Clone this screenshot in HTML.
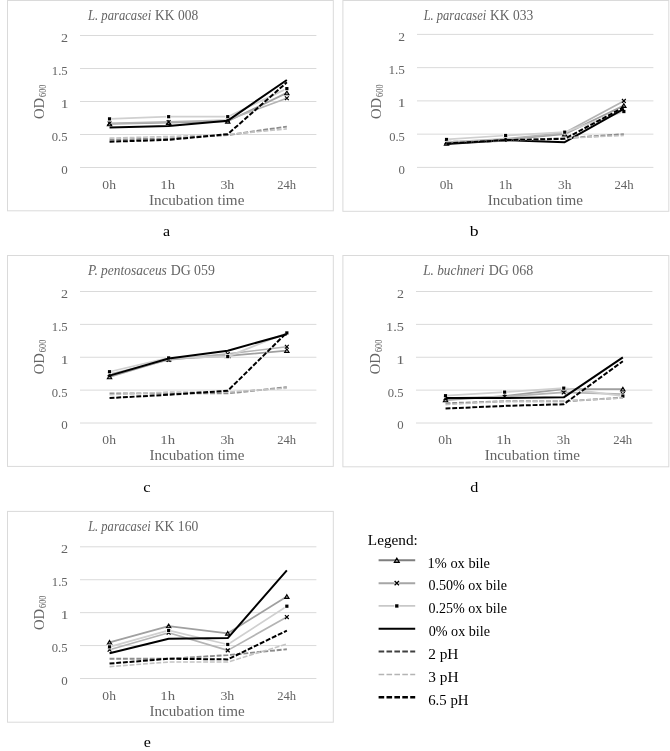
<!DOCTYPE html>
<html><head><meta charset="utf-8"><style>
html,body{margin:0;padding:0;background:#fff;}
svg{display:block;will-change:transform;font-family:"Liberation Serif", serif;}
</style></head><body>
<svg width="670" height="751" viewBox="0 0 670 751">
<rect width="670" height="751" fill="#fff"/>
<rect x="7.5" y="0.5" width="325.8" height="210.3" fill="#fff" stroke="#dadada" stroke-width="1"/>
<line x1="80.0" y1="167.5" x2="316.40" y2="167.5" stroke="#dadada" stroke-width="1"/>
<line x1="80.0" y1="134.5" x2="316.40" y2="134.5" stroke="#dadada" stroke-width="1"/>
<line x1="80.0" y1="101.5" x2="316.40" y2="101.5" stroke="#dadada" stroke-width="1"/>
<line x1="80.0" y1="68.5" x2="316.40" y2="68.5" stroke="#dadada" stroke-width="1"/>
<line x1="80.0" y1="35.5" x2="316.40" y2="35.5" stroke="#dadada" stroke-width="1"/>
<g transform="translate(44.10,119.10) rotate(-90)"><text x="0" y="0" font-size="14.5" fill="#646464" textLength="21.0" lengthAdjust="spacingAndGlyphs">OD</text><text x="22.1" y="2" font-size="10" fill="#646464" textLength="12.5" lengthAdjust="spacingAndGlyphs">600</text></g>
<polyline points="109.55,123.94 168.65,122.62 227.75,121.30 286.85,92.92" fill="none" stroke="#a0a0a0" stroke-width="1.8" stroke-linejoin="round"/>
<path d="M109.55,122.04 L111.75,125.74 L107.35,125.74 Z" fill="#a0a0a0" stroke="#000" stroke-width="1.1"/>
<path d="M168.65,120.72 L170.85,124.42 L166.45,124.42 Z" fill="#a0a0a0" stroke="#000" stroke-width="1.1"/>
<path d="M227.75,119.40 L229.95,123.10 L225.55,123.10 Z" fill="#a0a0a0" stroke="#000" stroke-width="1.1"/>
<path d="M286.85,91.02 L289.05,94.72 L284.65,94.72 Z" fill="#a0a0a0" stroke="#000" stroke-width="1.1"/>
<polyline points="109.55,123.28 168.65,121.96 227.75,119.98 286.85,98.20" fill="none" stroke="#b4b4b4" stroke-width="1.7" stroke-linejoin="round"/>
<path d="M107.65,121.38 L111.45,125.18 M111.45,121.38 L107.65,125.18" stroke="#000" stroke-width="1.2" fill="none"/>
<path d="M166.75,120.06 L170.55,123.86 M170.55,120.06 L166.75,123.86" stroke="#000" stroke-width="1.2" fill="none"/>
<path d="M225.85,118.08 L229.65,121.88 M229.65,118.08 L225.85,121.88" stroke="#000" stroke-width="1.2" fill="none"/>
<path d="M284.95,96.30 L288.75,100.10 M288.75,96.30 L284.95,100.10" stroke="#000" stroke-width="1.2" fill="none"/>
<polyline points="109.55,118.86 168.65,116.68 227.75,116.68 286.85,88.63" fill="none" stroke="#d0d0d0" stroke-width="1.7" stroke-linejoin="round"/>
<rect x="107.15" y="116.46" width="4.80" height="4.80" fill="#fff"/><rect x="107.95" y="117.26" width="3.20" height="3.20" fill="#000"/>
<rect x="166.25" y="114.28" width="4.80" height="4.80" fill="#fff"/><rect x="167.05" y="115.08" width="3.20" height="3.20" fill="#000"/>
<rect x="225.35" y="114.28" width="4.80" height="4.80" fill="#fff"/><rect x="226.15" y="115.08" width="3.20" height="3.20" fill="#000"/>
<rect x="284.45" y="86.23" width="4.80" height="4.80" fill="#fff"/><rect x="285.25" y="87.03" width="3.20" height="3.20" fill="#000"/>
<polyline points="109.55,127.57 168.65,125.92 227.75,120.64 286.85,79.98" fill="none" stroke="#000000" stroke-width="2.0" stroke-linejoin="round"/>
<polyline points="109.55,139.78 168.65,138.46 227.75,135.16 286.85,126.58" fill="none" stroke="#8c8c8c" stroke-width="1.9" stroke-linejoin="round" stroke-dasharray="4.9,1.8"/>
<polyline points="109.55,138.13 168.65,136.48 227.75,134.50 286.85,128.89" fill="none" stroke="#c4c4c4" stroke-width="1.6" stroke-linejoin="round" stroke-dasharray="4.9,1.8"/>
<polyline points="109.55,141.76 168.65,139.78 227.75,134.17 286.85,82.36" fill="none" stroke="#000000" stroke-width="2.0" stroke-linejoin="round" stroke-dasharray="4.9,1.8"/>
<rect x="342.9" y="0.5" width="325.9" height="210.8" fill="#fff" stroke="#dadada" stroke-width="1"/>
<line x1="417.0" y1="167.4" x2="653.40" y2="167.4" stroke="#dadada" stroke-width="1"/>
<line x1="417.0" y1="134.15" x2="653.40" y2="134.15" stroke="#dadada" stroke-width="1"/>
<line x1="417.0" y1="100.9" x2="653.40" y2="100.9" stroke="#dadada" stroke-width="1"/>
<line x1="417.0" y1="67.65" x2="653.40" y2="67.65" stroke="#dadada" stroke-width="1"/>
<line x1="417.0" y1="34.400000000000006" x2="653.40" y2="34.400000000000006" stroke="#dadada" stroke-width="1"/>
<g transform="translate(381.30,119.00) rotate(-90)"><text x="0" y="0" font-size="14.5" fill="#646464" textLength="21.0" lengthAdjust="spacingAndGlyphs">OD</text><text x="22.1" y="2" font-size="10" fill="#646464" textLength="12.5" lengthAdjust="spacingAndGlyphs">600</text></g>
<polyline points="446.55,143.46 505.65,139.47 564.75,134.15 623.85,105.56" fill="none" stroke="#a0a0a0" stroke-width="1.8" stroke-linejoin="round"/>
<path d="M446.55,141.56 L448.75,145.26 L444.35,145.26 Z" fill="#a0a0a0" stroke="#000" stroke-width="1.1"/>
<path d="M505.65,137.57 L507.85,141.27 L503.45,141.27 Z" fill="#a0a0a0" stroke="#000" stroke-width="1.1"/>
<path d="M564.75,132.25 L566.95,135.95 L562.55,135.95 Z" fill="#a0a0a0" stroke="#000" stroke-width="1.1"/>
<path d="M623.85,103.66 L626.05,107.36 L621.65,107.36 Z" fill="#a0a0a0" stroke="#000" stroke-width="1.1"/>
<polyline points="446.55,142.13 505.65,138.81 564.75,132.82 623.85,100.90" fill="none" stroke="#b4b4b4" stroke-width="1.7" stroke-linejoin="round"/>
<path d="M444.65,140.23 L448.45,144.03 M448.45,140.23 L444.65,144.03" stroke="#000" stroke-width="1.2" fill="none"/>
<path d="M503.75,136.91 L507.55,140.71 M507.55,136.91 L503.75,140.71" stroke="#000" stroke-width="1.2" fill="none"/>
<path d="M562.85,130.92 L566.65,134.72 M566.65,130.92 L562.85,134.72" stroke="#000" stroke-width="1.2" fill="none"/>
<path d="M621.95,99.00 L625.75,102.80 M625.75,99.00 L621.95,102.80" stroke="#000" stroke-width="1.2" fill="none"/>
<polyline points="446.55,139.47 505.65,135.48 564.75,132.16 623.85,111.54" fill="none" stroke="#d0d0d0" stroke-width="1.7" stroke-linejoin="round"/>
<rect x="444.15" y="137.07" width="4.80" height="4.80" fill="#fff"/><rect x="444.95" y="137.87" width="3.20" height="3.20" fill="#000"/>
<rect x="503.25" y="133.08" width="4.80" height="4.80" fill="#fff"/><rect x="504.05" y="133.88" width="3.20" height="3.20" fill="#000"/>
<rect x="562.35" y="129.75" width="4.80" height="4.80" fill="#fff"/><rect x="563.15" y="130.56" width="3.20" height="3.20" fill="#000"/>
<rect x="621.45" y="109.14" width="4.80" height="4.80" fill="#fff"/><rect x="622.25" y="109.94" width="3.20" height="3.20" fill="#000"/>
<polyline points="446.55,144.12 505.65,140.14 564.75,142.13 623.85,108.88" fill="none" stroke="#000000" stroke-width="2.0" stroke-linejoin="round"/>
<polyline points="446.55,142.80 505.65,140.80 564.75,138.14 623.85,134.15" fill="none" stroke="#8c8c8c" stroke-width="1.9" stroke-linejoin="round" stroke-dasharray="4.9,1.8"/>
<polyline points="446.55,141.47 505.65,140.80 564.75,138.14 623.85,135.48" fill="none" stroke="#c4c4c4" stroke-width="1.6" stroke-linejoin="round" stroke-dasharray="4.9,1.8"/>
<polyline points="446.55,143.46 505.65,140.14 564.75,138.81 623.85,107.22" fill="none" stroke="#000000" stroke-width="2.0" stroke-linejoin="round" stroke-dasharray="4.9,1.8"/>
<rect x="7.5" y="255.5" width="325.8" height="210.9" fill="#fff" stroke="#dadada" stroke-width="1"/>
<line x1="80.0" y1="423.0" x2="316.40" y2="423.0" stroke="#dadada" stroke-width="1"/>
<line x1="80.0" y1="390.125" x2="316.40" y2="390.125" stroke="#dadada" stroke-width="1"/>
<line x1="80.0" y1="357.25" x2="316.40" y2="357.25" stroke="#dadada" stroke-width="1"/>
<line x1="80.0" y1="324.375" x2="316.40" y2="324.375" stroke="#dadada" stroke-width="1"/>
<line x1="80.0" y1="291.5" x2="316.40" y2="291.5" stroke="#dadada" stroke-width="1"/>
<g transform="translate(44.10,374.30) rotate(-90)"><text x="0" y="0" font-size="14.5" fill="#646464" textLength="21.0" lengthAdjust="spacingAndGlyphs">OD</text><text x="22.1" y="2" font-size="10" fill="#646464" textLength="12.5" lengthAdjust="spacingAndGlyphs">600</text></g>
<polyline points="109.55,376.98 168.65,359.22 227.75,355.94 286.85,350.68" fill="none" stroke="#a0a0a0" stroke-width="1.8" stroke-linejoin="round"/>
<path d="M109.55,375.08 L111.75,378.78 L107.35,378.78 Z" fill="#a0a0a0" stroke="#000" stroke-width="1.1"/>
<path d="M168.65,357.32 L170.85,361.02 L166.45,361.02 Z" fill="#a0a0a0" stroke="#000" stroke-width="1.1"/>
<path d="M227.75,354.04 L229.95,357.74 L225.55,357.74 Z" fill="#a0a0a0" stroke="#000" stroke-width="1.1"/>
<path d="M286.85,348.78 L289.05,352.48 L284.65,352.48 Z" fill="#a0a0a0" stroke="#000" stroke-width="1.1"/>
<polyline points="109.55,374.35 168.65,359.88 227.75,353.96 286.85,346.73" fill="none" stroke="#b4b4b4" stroke-width="1.7" stroke-linejoin="round"/>
<path d="M107.65,372.45 L111.45,376.25 M111.45,372.45 L107.65,376.25" stroke="#000" stroke-width="1.2" fill="none"/>
<path d="M166.75,357.98 L170.55,361.78 M170.55,357.98 L166.75,361.78" stroke="#000" stroke-width="1.2" fill="none"/>
<path d="M225.85,352.06 L229.65,355.86 M229.65,352.06 L225.85,355.86" stroke="#000" stroke-width="1.2" fill="none"/>
<path d="M284.95,344.83 L288.75,348.63 M288.75,344.83 L284.95,348.63" stroke="#000" stroke-width="1.2" fill="none"/>
<polyline points="109.55,371.71 168.65,357.91 227.75,356.59 286.85,332.92" fill="none" stroke="#d0d0d0" stroke-width="1.7" stroke-linejoin="round"/>
<rect x="107.15" y="369.31" width="4.80" height="4.80" fill="#fff"/><rect x="107.95" y="370.11" width="3.20" height="3.20" fill="#000"/>
<rect x="166.25" y="355.51" width="4.80" height="4.80" fill="#fff"/><rect x="167.05" y="356.31" width="3.20" height="3.20" fill="#000"/>
<rect x="225.35" y="354.19" width="4.80" height="4.80" fill="#fff"/><rect x="226.15" y="354.99" width="3.20" height="3.20" fill="#000"/>
<rect x="284.45" y="330.52" width="4.80" height="4.80" fill="#fff"/><rect x="285.25" y="331.32" width="3.20" height="3.20" fill="#000"/>
<polyline points="109.55,375.66 168.65,358.56 227.75,350.68 286.85,334.24" fill="none" stroke="#000000" stroke-width="2.0" stroke-linejoin="round"/>
<polyline points="109.55,393.41 168.65,393.41 227.75,393.41 286.85,387.17" fill="none" stroke="#8c8c8c" stroke-width="1.9" stroke-linejoin="round" stroke-dasharray="4.9,1.8"/>
<polyline points="109.55,394.73 168.65,392.10 227.75,392.10 286.85,388.15" fill="none" stroke="#c4c4c4" stroke-width="1.6" stroke-linejoin="round" stroke-dasharray="4.9,1.8"/>
<polyline points="109.55,398.01 168.65,394.73 227.75,390.78 286.85,332.59" fill="none" stroke="#000000" stroke-width="2.0" stroke-linejoin="round" stroke-dasharray="4.9,1.8"/>
<rect x="342.9" y="255.5" width="325.9" height="211.3" fill="#fff" stroke="#dadada" stroke-width="1"/>
<line x1="416.0" y1="423.0" x2="652.40" y2="423.0" stroke="#dadada" stroke-width="1"/>
<line x1="416.0" y1="390.125" x2="652.40" y2="390.125" stroke="#dadada" stroke-width="1"/>
<line x1="416.0" y1="357.25" x2="652.40" y2="357.25" stroke="#dadada" stroke-width="1"/>
<line x1="416.0" y1="324.375" x2="652.40" y2="324.375" stroke="#dadada" stroke-width="1"/>
<line x1="416.0" y1="291.5" x2="652.40" y2="291.5" stroke="#dadada" stroke-width="1"/>
<g transform="translate(380.00,374.20) rotate(-90)"><text x="0" y="0" font-size="14.5" fill="#646464" textLength="21.0" lengthAdjust="spacingAndGlyphs">OD</text><text x="22.1" y="2" font-size="10" fill="#646464" textLength="12.5" lengthAdjust="spacingAndGlyphs">600</text></g>
<polyline points="445.55,399.99 504.65,396.04 563.75,389.14 622.85,389.14" fill="none" stroke="#a0a0a0" stroke-width="1.8" stroke-linejoin="round"/>
<path d="M445.55,398.09 L447.75,401.79 L443.35,401.79 Z" fill="#a0a0a0" stroke="#000" stroke-width="1.1"/>
<path d="M504.65,394.14 L506.85,397.84 L502.45,397.84 Z" fill="#a0a0a0" stroke="#000" stroke-width="1.1"/>
<path d="M563.75,387.24 L565.95,390.94 L561.55,390.94 Z" fill="#a0a0a0" stroke="#000" stroke-width="1.1"/>
<path d="M622.85,387.24 L625.05,390.94 L620.65,390.94 Z" fill="#a0a0a0" stroke="#000" stroke-width="1.1"/>
<polyline points="445.55,398.01 504.65,396.70 563.75,392.43 622.85,394.07" fill="none" stroke="#b4b4b4" stroke-width="1.7" stroke-linejoin="round"/>
<path d="M443.65,396.12 L447.45,399.91 M447.45,396.12 L443.65,399.91" stroke="#000" stroke-width="1.2" fill="none"/>
<path d="M502.75,394.80 L506.55,398.60 M506.55,394.80 L502.75,398.60" stroke="#000" stroke-width="1.2" fill="none"/>
<path d="M561.85,390.53 L565.65,394.33 M565.65,390.53 L561.85,394.33" stroke="#000" stroke-width="1.2" fill="none"/>
<path d="M620.95,392.17 L624.75,395.97 M624.75,392.17 L620.95,395.97" stroke="#000" stroke-width="1.2" fill="none"/>
<polyline points="445.55,395.71 504.65,392.10 563.75,388.15 622.85,396.04" fill="none" stroke="#d0d0d0" stroke-width="1.7" stroke-linejoin="round"/>
<rect x="443.15" y="393.31" width="4.80" height="4.80" fill="#fff"/><rect x="443.95" y="394.11" width="3.20" height="3.20" fill="#000"/>
<rect x="502.25" y="389.70" width="4.80" height="4.80" fill="#fff"/><rect x="503.05" y="390.50" width="3.20" height="3.20" fill="#000"/>
<rect x="561.35" y="385.75" width="4.80" height="4.80" fill="#fff"/><rect x="562.15" y="386.55" width="3.20" height="3.20" fill="#000"/>
<rect x="620.45" y="393.64" width="4.80" height="4.80" fill="#fff"/><rect x="621.25" y="394.44" width="3.20" height="3.20" fill="#000"/>
<polyline points="445.55,398.01 504.65,398.01 563.75,397.36 622.85,357.45" fill="none" stroke="#000000" stroke-width="2.0" stroke-linejoin="round"/>
<polyline points="445.55,403.27 504.65,401.30 563.75,401.30 622.85,397.69" fill="none" stroke="#8c8c8c" stroke-width="1.9" stroke-linejoin="round" stroke-dasharray="4.9,1.8"/>
<polyline points="445.55,404.59 504.65,401.30 563.75,400.97 622.85,398.01" fill="none" stroke="#c4c4c4" stroke-width="1.6" stroke-linejoin="round" stroke-dasharray="4.9,1.8"/>
<polyline points="445.55,408.54 504.65,405.90 563.75,404.26 622.85,361.19" fill="none" stroke="#000000" stroke-width="2.0" stroke-linejoin="round" stroke-dasharray="4.9,1.8"/>
<rect x="7.5" y="511.4" width="325.8" height="210.8" fill="#fff" stroke="#dadada" stroke-width="1"/>
<line x1="80.0" y1="678.5" x2="316.40" y2="678.5" stroke="#dadada" stroke-width="1"/>
<line x1="80.0" y1="645.575" x2="316.40" y2="645.575" stroke="#dadada" stroke-width="1"/>
<line x1="80.0" y1="612.65" x2="316.40" y2="612.65" stroke="#dadada" stroke-width="1"/>
<line x1="80.0" y1="579.725" x2="316.40" y2="579.725" stroke="#dadada" stroke-width="1"/>
<line x1="80.0" y1="546.8" x2="316.40" y2="546.8" stroke="#dadada" stroke-width="1"/>
<g transform="translate(44.10,630.10) rotate(-90)"><text x="0" y="0" font-size="14.5" fill="#646464" textLength="21.0" lengthAdjust="spacingAndGlyphs">OD</text><text x="22.1" y="2" font-size="10" fill="#646464" textLength="12.5" lengthAdjust="spacingAndGlyphs">600</text></g>
<polyline points="109.55,642.35 168.65,626.02 227.75,633.33 286.85,596.58" fill="none" stroke="#a0a0a0" stroke-width="1.8" stroke-linejoin="round"/>
<path d="M109.55,640.45 L111.75,644.15 L107.35,644.15 Z" fill="#a0a0a0" stroke="#000" stroke-width="1.1"/>
<path d="M168.65,624.12 L170.85,627.82 L166.45,627.82 Z" fill="#a0a0a0" stroke="#000" stroke-width="1.1"/>
<path d="M227.75,631.43 L229.95,635.13 L225.55,635.13 Z" fill="#a0a0a0" stroke="#000" stroke-width="1.1"/>
<path d="M286.85,594.68 L289.05,598.38 L284.65,598.38 Z" fill="#a0a0a0" stroke="#000" stroke-width="1.1"/>
<polyline points="109.55,649.79 168.65,632.73 227.75,650.38 286.85,617.06" fill="none" stroke="#b4b4b4" stroke-width="1.7" stroke-linejoin="round"/>
<path d="M107.65,647.89 L111.45,651.69 M111.45,647.89 L107.65,651.69" stroke="#000" stroke-width="1.2" fill="none"/>
<path d="M166.75,630.83 L170.55,634.63 M170.55,630.83 L166.75,634.63" stroke="#000" stroke-width="1.2" fill="none"/>
<path d="M225.85,648.48 L229.65,652.28 M229.65,648.48 L225.85,652.28" stroke="#000" stroke-width="1.2" fill="none"/>
<path d="M284.95,615.16 L288.75,618.96 M288.75,615.16 L284.95,618.96" stroke="#000" stroke-width="1.2" fill="none"/>
<polyline points="109.55,646.89 168.65,630.43 227.75,644.46 286.85,606.20" fill="none" stroke="#d0d0d0" stroke-width="1.7" stroke-linejoin="round"/>
<rect x="107.15" y="644.49" width="4.80" height="4.80" fill="#fff"/><rect x="107.95" y="645.29" width="3.20" height="3.20" fill="#000"/>
<rect x="166.25" y="628.03" width="4.80" height="4.80" fill="#fff"/><rect x="167.05" y="628.83" width="3.20" height="3.20" fill="#000"/>
<rect x="225.35" y="642.06" width="4.80" height="4.80" fill="#fff"/><rect x="226.15" y="642.86" width="3.20" height="3.20" fill="#000"/>
<rect x="284.45" y="603.80" width="4.80" height="4.80" fill="#fff"/><rect x="285.25" y="604.60" width="3.20" height="3.20" fill="#000"/>
<polyline points="109.55,653.28 168.65,638.66 227.75,638.07 286.85,570.37" fill="none" stroke="#000000" stroke-width="2.0" stroke-linejoin="round"/>
<polyline points="109.55,658.75 168.65,658.75 227.75,655.12 286.85,649.26" fill="none" stroke="#8c8c8c" stroke-width="1.9" stroke-linejoin="round" stroke-dasharray="4.9,1.8"/>
<polyline points="109.55,666.65 168.65,662.04 227.75,662.04 286.85,643.99" fill="none" stroke="#c4c4c4" stroke-width="1.6" stroke-linejoin="round" stroke-dasharray="4.9,1.8"/>
<polyline points="109.55,663.55 168.65,658.75 227.75,659.40 286.85,630.63" fill="none" stroke="#000000" stroke-width="2.0" stroke-linejoin="round" stroke-dasharray="4.9,1.8"/>
<line x1="378.6" y1="560.30" x2="415.2" y2="560.30" stroke="#7f7f7f" stroke-width="2.0"/>
<path d="M396.80,558.12 L399.33,562.37 L394.27,562.37 Z" fill="#a0a0a0" stroke="#000" stroke-width="1.1"/>
<line x1="378.6" y1="583.13" x2="415.2" y2="583.13" stroke="#a6a6a6" stroke-width="2.0"/>
<path d="M394.62,580.95 L398.99,585.32 M398.99,580.95 L394.62,585.32" stroke="#fff" stroke-width="2.6" fill="none"/><path d="M394.62,580.95 L398.99,585.32 M398.99,580.95 L394.62,585.32" stroke="#000" stroke-width="1.3" fill="none"/>
<line x1="378.6" y1="605.96" x2="415.2" y2="605.96" stroke="#c8c8c8" stroke-width="1.8"/>
<rect x="394.32" y="603.48" width="4.96" height="4.96" fill="#fff"/><rect x="395.12" y="604.28" width="3.36" height="3.36" fill="#000"/>
<line x1="378.6" y1="628.79" x2="415.2" y2="628.79" stroke="#000000" stroke-width="2.0"/>
<line x1="378.6" y1="651.62" x2="415.2" y2="651.62" stroke="#404040" stroke-width="2.0" stroke-dasharray="5.6,2.3"/>
<line x1="378.6" y1="674.45" x2="415.2" y2="674.45" stroke="#b4b4b4" stroke-width="1.6" stroke-dasharray="5.6,2.3"/>
<line x1="378.6" y1="697.28" x2="415.2" y2="697.28" stroke="#000000" stroke-width="2.6" stroke-dasharray="5.6,2.3"/>
<text id="a_tick0" x="61.203" y="173.90" font-size="13" fill="#646464" textLength="6.474" lengthAdjust="spacingAndGlyphs">0</text>
<text id="a_tick1" x="51.696" y="140.90" font-size="13" fill="#646464" textLength="15.767" lengthAdjust="spacingAndGlyphs">0.5</text>
<text id="a_tick2" x="60.647" y="107.90" font-size="13" fill="#646464" textLength="7.780" lengthAdjust="spacingAndGlyphs">1</text>
<text id="a_tick3" x="51.768" y="74.90" font-size="13" fill="#646464" textLength="15.928" lengthAdjust="spacingAndGlyphs">1.5</text>
<text id="a_tick4" x="61.044" y="41.90" font-size="13" fill="#646464" textLength="7.061" lengthAdjust="spacingAndGlyphs">2</text>
<text id="a_cat0h" x="102.345" y="188.60" font-size="13" fill="#646464" textLength="13.589" lengthAdjust="spacingAndGlyphs">0h</text>
<text id="a_cat1h" x="160.333" y="188.60" font-size="13" fill="#646464" textLength="14.758" lengthAdjust="spacingAndGlyphs">1h</text>
<text id="a_cat3h" x="220.414" y="188.60" font-size="13" fill="#646464" textLength="13.886" lengthAdjust="spacingAndGlyphs">3h</text>
<text id="a_cat24h" x="277.249" y="188.60" font-size="13" fill="#646464" textLength="18.881" lengthAdjust="spacingAndGlyphs">24h</text>
<text id="a_axt" x="148.909" y="204.60" font-size="13.6" fill="#646464" textLength="95.479" lengthAdjust="spacingAndGlyphs">Incubation time</text>
<text id="a_ti" x="87.926" y="19.60" font-size="14" fill="#646464" font-style="italic" textLength="63.306" lengthAdjust="spacingAndGlyphs">L. paracasei</text>
<text id="a_tr" x="155.110" y="19.60" font-size="14" fill="#646464" textLength="43.009" lengthAdjust="spacingAndGlyphs">KK 008</text>
<text id="b_tick0" x="398.550" y="173.80" font-size="13" fill="#646464" textLength="6.415" lengthAdjust="spacingAndGlyphs">0</text>
<text id="b_tick1" x="389.126" y="140.55" font-size="13" fill="#646464" textLength="15.679" lengthAdjust="spacingAndGlyphs">0.5</text>
<text id="b_tick2" x="397.681" y="107.30" font-size="13" fill="#646464" textLength="7.812" lengthAdjust="spacingAndGlyphs">1</text>
<text id="b_tick3" x="388.412" y="74.05" font-size="13" fill="#646464" textLength="16.488" lengthAdjust="spacingAndGlyphs">1.5</text>
<text id="b_tick4" x="398.219" y="40.80" font-size="13" fill="#646464" textLength="6.786" lengthAdjust="spacingAndGlyphs">2</text>
<text id="b_cat0h" x="439.873" y="188.50" font-size="13" fill="#646464" textLength="13.337" lengthAdjust="spacingAndGlyphs">0h</text>
<text id="b_cat1h" x="498.776" y="188.50" font-size="13" fill="#646464" textLength="13.371" lengthAdjust="spacingAndGlyphs">1h</text>
<text id="b_cat3h" x="558.099" y="188.50" font-size="13" fill="#646464" textLength="13.337" lengthAdjust="spacingAndGlyphs">3h</text>
<text id="b_cat24h" x="614.451" y="188.50" font-size="13" fill="#646464" textLength="19.161" lengthAdjust="spacingAndGlyphs">24h</text>
<text id="b_axt" x="487.759" y="204.50" font-size="13.6" fill="#646464" textLength="95.257" lengthAdjust="spacingAndGlyphs">Incubation time</text>
<text id="b_ti" x="423.656" y="19.80" font-size="14" fill="#646464" font-style="italic" textLength="62.519" lengthAdjust="spacingAndGlyphs">L. paracasei</text>
<text id="b_tr" x="490.058" y="19.80" font-size="14" fill="#646464" textLength="43.085" lengthAdjust="spacingAndGlyphs">KK 033</text>
<text id="c_tick0" x="61.203" y="429.40" font-size="13" fill="#646464" textLength="6.474" lengthAdjust="spacingAndGlyphs">0</text>
<text id="c_tick1" x="51.696" y="396.52" font-size="13" fill="#646464" textLength="15.767" lengthAdjust="spacingAndGlyphs">0.5</text>
<text id="c_tick2" x="60.647" y="363.65" font-size="13" fill="#646464" textLength="7.780" lengthAdjust="spacingAndGlyphs">1</text>
<text id="c_tick3" x="51.768" y="330.77" font-size="13" fill="#646464" textLength="15.928" lengthAdjust="spacingAndGlyphs">1.5</text>
<text id="c_tick4" x="61.044" y="297.90" font-size="13" fill="#646464" textLength="7.061" lengthAdjust="spacingAndGlyphs">2</text>
<text id="c_cat0h" x="102.345" y="443.80" font-size="13" fill="#646464" textLength="13.589" lengthAdjust="spacingAndGlyphs">0h</text>
<text id="c_cat1h" x="160.333" y="443.80" font-size="13" fill="#646464" textLength="14.758" lengthAdjust="spacingAndGlyphs">1h</text>
<text id="c_cat3h" x="220.414" y="443.80" font-size="13" fill="#646464" textLength="13.886" lengthAdjust="spacingAndGlyphs">3h</text>
<text id="c_cat24h" x="277.249" y="443.80" font-size="13" fill="#646464" textLength="18.881" lengthAdjust="spacingAndGlyphs">24h</text>
<text id="c_axt" x="149.440" y="459.80" font-size="13.6" fill="#646464" textLength="95.039" lengthAdjust="spacingAndGlyphs">Incubation time</text>
<text id="c_ti" x="87.917" y="274.90" font-size="14" fill="#646464" font-style="italic" textLength="78.940" lengthAdjust="spacingAndGlyphs">P. pentosaceus</text>
<text id="c_tr" x="170.686" y="274.90" font-size="14" fill="#646464" textLength="44.203" lengthAdjust="spacingAndGlyphs">DG 059</text>
<text id="d_tick0" x="397.316" y="429.40" font-size="13" fill="#646464" textLength="6.377" lengthAdjust="spacingAndGlyphs">0</text>
<text id="d_tick1" x="387.729" y="396.52" font-size="13" fill="#646464" textLength="15.767" lengthAdjust="spacingAndGlyphs">0.5</text>
<text id="d_tick2" x="396.188" y="363.65" font-size="13" fill="#646464" textLength="8.285" lengthAdjust="spacingAndGlyphs">1</text>
<text id="d_tick3" x="385.999" y="330.77" font-size="13" fill="#646464" textLength="17.933" lengthAdjust="spacingAndGlyphs">1.5</text>
<text id="d_tick4" x="396.964" y="297.90" font-size="13" fill="#646464" textLength="6.985" lengthAdjust="spacingAndGlyphs">2</text>
<text id="d_cat0h" x="438.371" y="443.70" font-size="13" fill="#646464" textLength="13.602" lengthAdjust="spacingAndGlyphs">0h</text>
<text id="d_cat1h" x="496.360" y="443.70" font-size="13" fill="#646464" textLength="14.769" lengthAdjust="spacingAndGlyphs">1h</text>
<text id="d_cat3h" x="556.835" y="443.70" font-size="13" fill="#646464" textLength="13.321" lengthAdjust="spacingAndGlyphs">3h</text>
<text id="d_cat24h" x="613.159" y="443.70" font-size="13" fill="#646464" textLength="19.055" lengthAdjust="spacingAndGlyphs">24h</text>
<text id="d_axt" x="484.771" y="459.70" font-size="13.6" fill="#646464" textLength="95.310" lengthAdjust="spacingAndGlyphs">Incubation time</text>
<text id="d_ti" x="423.214" y="275.10" font-size="14" fill="#646464" font-style="italic" textLength="61.249" lengthAdjust="spacingAndGlyphs">L. buchneri</text>
<text id="d_tr" x="488.668" y="275.10" font-size="14" fill="#646464" textLength="44.606" lengthAdjust="spacingAndGlyphs">DG 068</text>
<text id="e_tick0" x="61.203" y="684.90" font-size="13" fill="#646464" textLength="6.474" lengthAdjust="spacingAndGlyphs">0</text>
<text id="e_tick1" x="51.696" y="651.98" font-size="13" fill="#646464" textLength="15.767" lengthAdjust="spacingAndGlyphs">0.5</text>
<text id="e_tick2" x="60.647" y="619.05" font-size="13" fill="#646464" textLength="7.780" lengthAdjust="spacingAndGlyphs">1</text>
<text id="e_tick3" x="51.768" y="586.12" font-size="13" fill="#646464" textLength="15.928" lengthAdjust="spacingAndGlyphs">1.5</text>
<text id="e_tick4" x="61.044" y="553.20" font-size="13" fill="#646464" textLength="7.061" lengthAdjust="spacingAndGlyphs">2</text>
<text id="e_cat0h" x="102.345" y="699.60" font-size="13" fill="#646464" textLength="13.589" lengthAdjust="spacingAndGlyphs">0h</text>
<text id="e_cat1h" x="160.333" y="699.60" font-size="13" fill="#646464" textLength="14.758" lengthAdjust="spacingAndGlyphs">1h</text>
<text id="e_cat3h" x="220.414" y="699.60" font-size="13" fill="#646464" textLength="13.886" lengthAdjust="spacingAndGlyphs">3h</text>
<text id="e_cat24h" x="277.249" y="699.60" font-size="13" fill="#646464" textLength="18.881" lengthAdjust="spacingAndGlyphs">24h</text>
<text id="e_axt" x="149.498" y="715.60" font-size="13.6" fill="#646464" textLength="95.307" lengthAdjust="spacingAndGlyphs">Incubation time</text>
<text id="e_ti" x="88.143" y="530.90" font-size="14" fill="#646464" font-style="italic" textLength="62.600" lengthAdjust="spacingAndGlyphs">L. paracasei</text>
<text id="e_tr" x="154.795" y="530.90" font-size="14" fill="#646464" textLength="43.471" lengthAdjust="spacingAndGlyphs">KK 160</text>
<text id="lbl_a" x="163.082" y="236.00" font-size="15" fill="#000" textLength="7.107" lengthAdjust="spacingAndGlyphs">a</text>
<text id="lbl_b" x="469.845" y="235.90" font-size="15" fill="#000" textLength="8.815" lengthAdjust="spacingAndGlyphs">b</text>
<text id="lbl_c" x="143.234" y="491.60" font-size="15" fill="#000" textLength="7.311" lengthAdjust="spacingAndGlyphs">c</text>
<text id="lbl_d" x="470.297" y="491.50" font-size="15" fill="#000" textLength="8.068" lengthAdjust="spacingAndGlyphs">d</text>
<text id="lbl_e" x="143.762" y="747.10" font-size="15" fill="#000" textLength="7.126" lengthAdjust="spacingAndGlyphs">e</text>
<text id="leg_title" x="367.826" y="545.30" font-size="14.5" fill="#000" textLength="49.982" lengthAdjust="spacingAndGlyphs">Legend:</text>
<text id="leg0" x="427.599" y="567.60" font-size="14" fill="#000" textLength="62.425" lengthAdjust="spacingAndGlyphs">1% ox bile</text>
<text id="leg1" x="428.404" y="590.43" font-size="14" fill="#000" textLength="78.508" lengthAdjust="spacingAndGlyphs">0.50% ox bile</text>
<text id="leg2" x="428.404" y="613.26" font-size="14" fill="#000" textLength="78.508" lengthAdjust="spacingAndGlyphs">0.25% ox bile</text>
<text id="leg3" x="428.663" y="636.09" font-size="14" fill="#000" textLength="61.315" lengthAdjust="spacingAndGlyphs">0% ox bile</text>
<text id="leg4" x="428.158" y="658.92" font-size="14" fill="#000" textLength="30.335" lengthAdjust="spacingAndGlyphs">2 pH</text>
<text id="leg5" x="428.351" y="681.75" font-size="14" fill="#000" textLength="30.291" lengthAdjust="spacingAndGlyphs">3 pH</text>
<text id="leg6" x="428.179" y="704.58" font-size="14" fill="#000" textLength="40.380" lengthAdjust="spacingAndGlyphs">6.5 pH</text>
</svg>
</body></html>
